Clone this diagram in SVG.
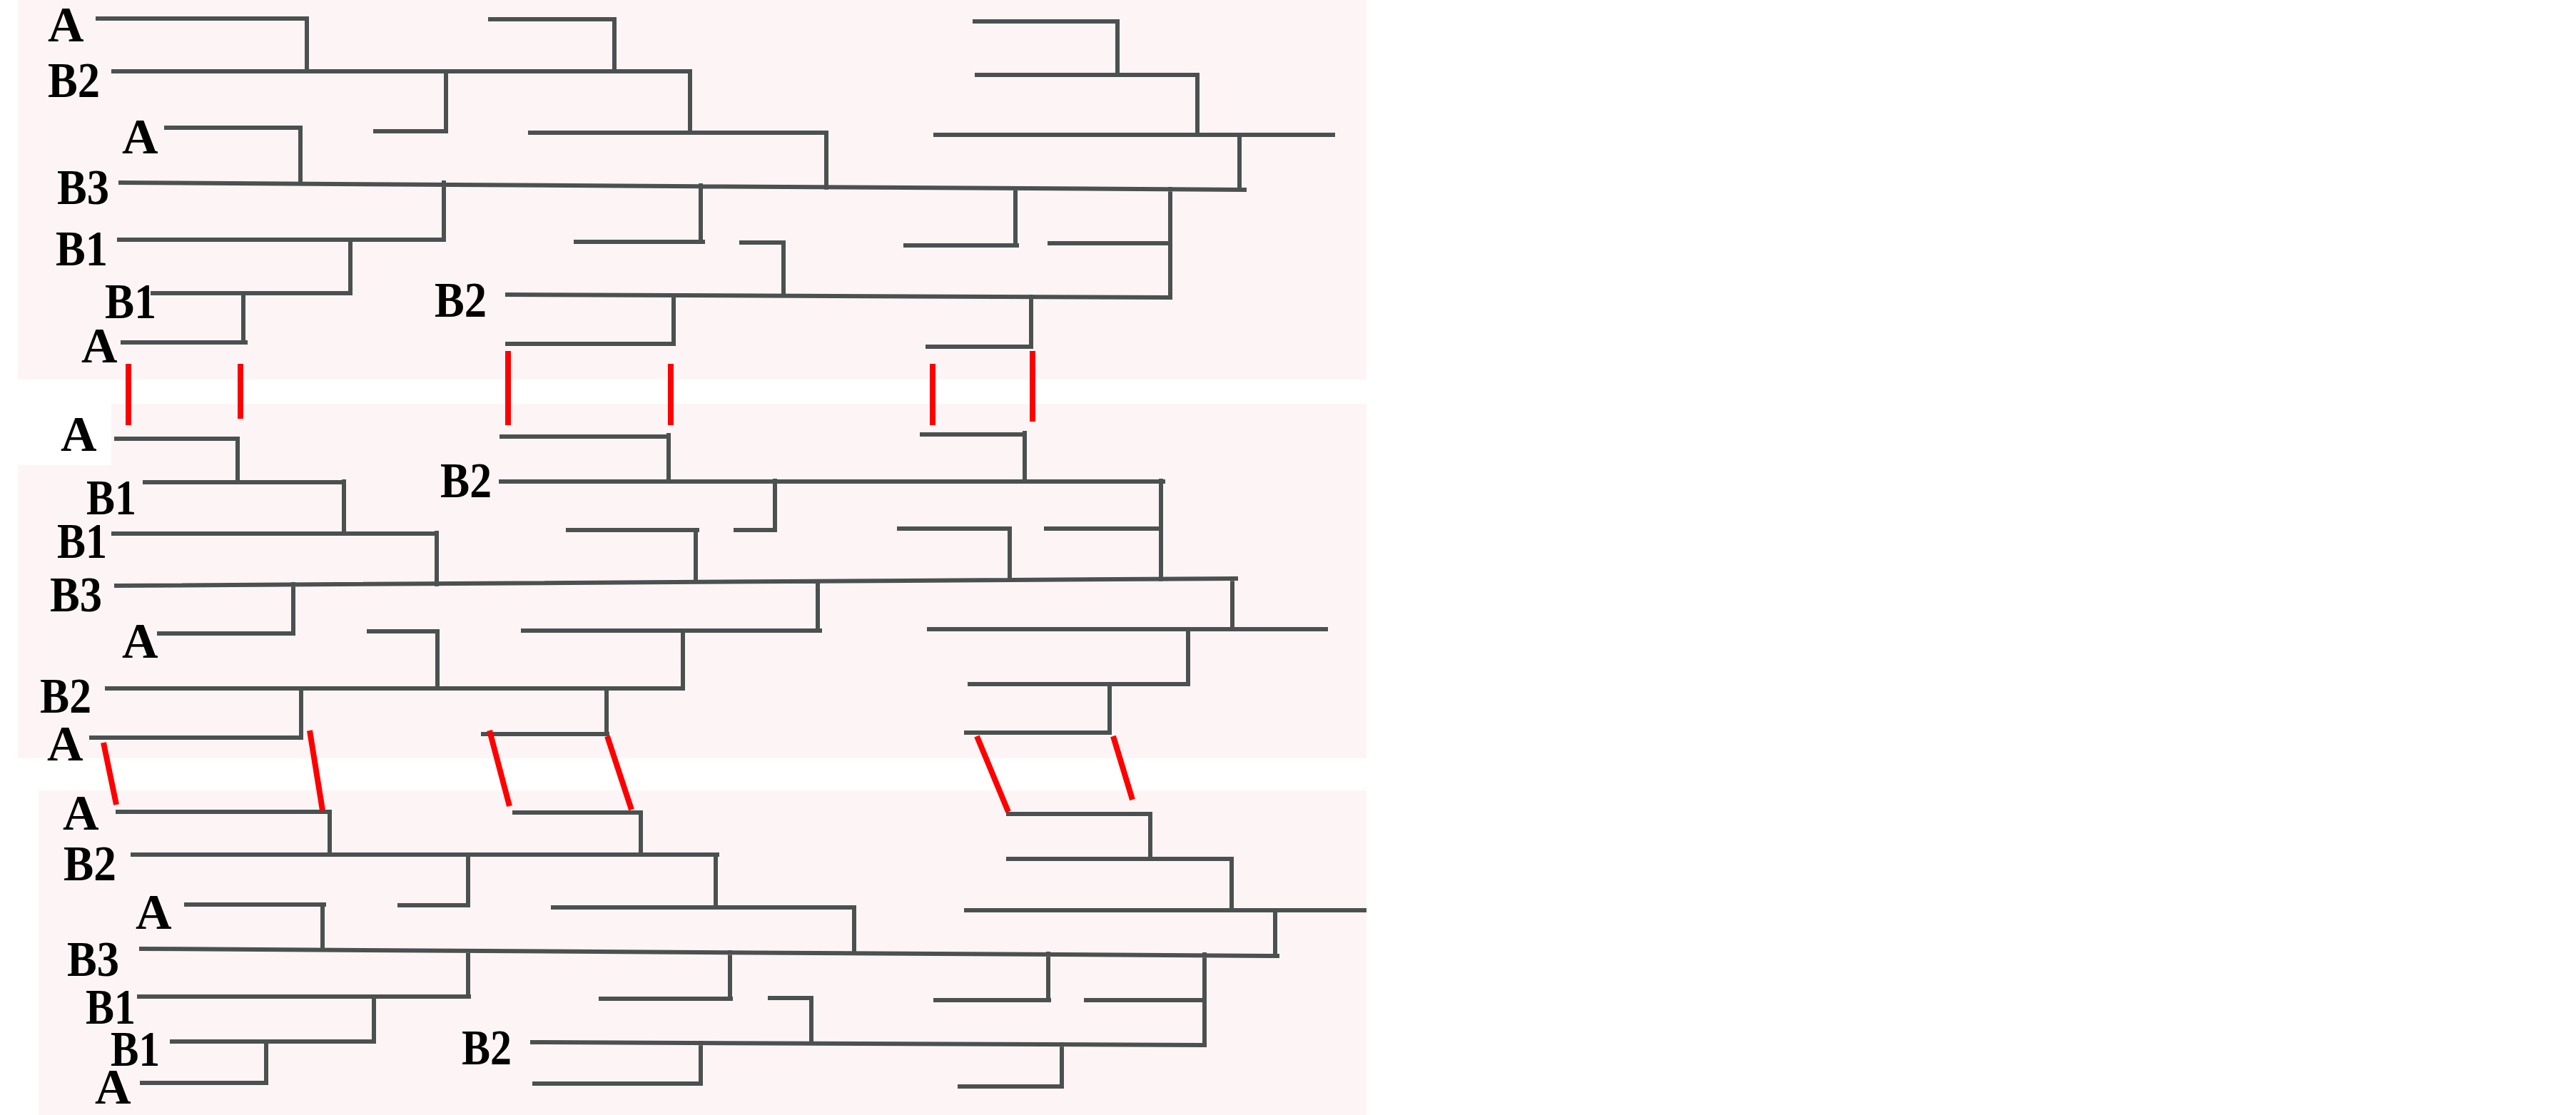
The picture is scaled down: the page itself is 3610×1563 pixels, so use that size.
<svg xmlns="http://www.w3.org/2000/svg" width="3610" height="1563" viewBox="0 0 3610 1563">
<style>
.bg{fill:#fdf5f5}
.ln{stroke:#4b5050;stroke-width:6;stroke-linecap:square;fill:none}
.rd{stroke:#ff0000;stroke-width:8;fill:none}
.lb{font-family:"Liberation Serif","Times New Roman",serif;font-weight:bold;font-size:70px;fill:#000}
</style>
<rect width="3610" height="1563" fill="#ffffff"/>
<g id="panels">
<rect class="bg" x="25" y="0" width="1890" height="532"/>
<rect class="bg" x="156" y="566" width="1759" height="90"/>
<rect class="bg" x="25" y="652" width="1890" height="411"/>
<rect class="bg" x="54" y="1108" width="1861" height="455"/>
</g>
<g id="labels">
<g id="p1-a1"><text class="lb" x="67" y="58">A</text></g>
<g id="p1-b2"><text class="lb" x="67" y="136" textLength="73" lengthAdjust="spacingAndGlyphs">B2</text></g>
<g id="p1-a2"><text class="lb" x="171" y="215">A</text></g>
<g id="p1-b3"><text class="lb" x="80" y="286" textLength="73" lengthAdjust="spacingAndGlyphs">B3</text></g>
<g id="p1-b1a"><text class="lb" x="78" y="372" textLength="73" lengthAdjust="spacingAndGlyphs">B1</text></g>
<g id="p1-b1b"><text class="lb" x="147" y="446" textLength="72" lengthAdjust="spacingAndGlyphs">B1</text></g>
<g id="p1-a3"><text class="lb" x="114" y="508">A</text></g>
<g id="p1-b2r"><text class="lb" x="609" y="444" textLength="73" lengthAdjust="spacingAndGlyphs">B2</text></g>
<g id="p2-a1"><text class="lb" x="85" y="632">A</text></g>
<g id="p2-b1a"><text class="lb" x="121" y="721" textLength="70" lengthAdjust="spacingAndGlyphs">B1</text></g>
<g id="p2-b2r"><text class="lb" x="617" y="697" textLength="72" lengthAdjust="spacingAndGlyphs">B2</text></g>
<g id="p2-b1b"><text class="lb" x="80" y="782" textLength="70" lengthAdjust="spacingAndGlyphs">B1</text></g>
<g id="p2-b3"><text class="lb" x="70" y="857" textLength="73" lengthAdjust="spacingAndGlyphs">B3</text></g>
<g id="p2-a2"><text class="lb" x="171" y="922">A</text></g>
<g id="p2-b2"><text class="lb" x="56" y="999" textLength="72" lengthAdjust="spacingAndGlyphs">B2</text></g>
<g id="p2-a3"><text class="lb" x="66" y="1066">A</text></g>
<g id="p3-a1"><text class="lb" x="88" y="1163">A</text></g>
<g id="p3-b2"><text class="lb" x="89" y="1234" textLength="74" lengthAdjust="spacingAndGlyphs">B2</text></g>
<g id="p3-a2"><text class="lb" x="190" y="1302">A</text></g>
<g id="p3-b3"><text class="lb" x="94" y="1368" textLength="73" lengthAdjust="spacingAndGlyphs">B3</text></g>
<g id="p3-b1a"><text class="lb" x="120" y="1435" textLength="70" lengthAdjust="spacingAndGlyphs">B1</text></g>
<g id="p3-b1b"><text class="lb" x="155" y="1494" textLength="69" lengthAdjust="spacingAndGlyphs">B1</text></g>
<g id="p3-a3"><text class="lb" x="133" y="1547">A</text></g>
<g id="p3-b2r"><text class="lb" x="647" y="1492" textLength="70" lengthAdjust="spacingAndGlyphs">B2</text></g>
</g>
<g id="connectors">
<path class="ln" d="M137 26H430M687 27H861M1366 30H1566
M159 100H967M1369 105H1678
M233 179H421M526 184H625M743 186H1158M1311 189H1868
M169 256L1744 266
M167 336H622M807 339H985M1039 340H1098M1269 344H1425M1471 341H1640
M214 411H491M711 413L1640 417
M172 480H344M711 482H944M1300 486H1445
M430 26V100M861 27V100M1566 30V105
M625 100V184M967 100V186M1678 105V189
M421 179V257M1158 186V263M1737 189V266
M622 256V336M982 260V339M1423 264V344M1640 265V417
M491 336V411M1098 340V414
M341 411V480M944 414V482M1445 416V486"/>
<path class="ln" d="M163 615H333M703 612H937M1292 609H1436
M203 676H482M702 675H1630
M159 748H612M796 743H977M1031 743H1086M1260 741H1415M1466 741H1627
M163 821L1732 811
M223 888H411M517 885H613M733 884H1149M1302 882H1858
M150 965H957M1359 959H1665
M128 1034H422M677 1029H851M1354 1027H1555
M333 615V676M937 610V675M1436 607V673
M482 675V747M1086 674V743M1627 674V812
M612 747V819M975 743V815M1415 741V812
M411 819V888M1146 815V884M1727 811V882
M613 885V965M957 884V965M1665 882V959
M422 965V1034M850 965V1029M1555 959V1027"/>
<path class="ln" d="M165 1138H462M721 1139H898M1413 1141H1612
M186 1198H1005M1413 1204H1726
M261 1268H454M560 1269H656M775 1272H1197M1354 1276H1912
M198 1330L1790 1340
M195 1397H657M842 1400H1024M1079 1399H1137M1311 1402H1470M1522 1402H1688
M241 1460H524M746 1461L1688 1465
M199 1518H373M749 1519H982M1345 1523H1488
M462 1138V1198M898 1139V1198M1612 1141V1204
M656 1198V1269M1003 1198V1272M1726 1204V1276
M452 1268V1331M1197 1272V1335M1787 1276V1340
M656 1333V1397M1023 1335V1400M1469 1337V1402M1688 1338V1464
M524 1397V1460M1137 1399V1462
M373 1460V1518M982 1462V1519M1488 1464V1523"/>
</g>
<g id="red-links">
<path class="rd" d="M180 510V596M337 510V587M712 492V596M940 510V596M1307 510V596M1447 492V591"/>
<path class="rd" d="M145 1041L163 1128M434 1024L452 1136M686 1024L714 1130M851 1032L885 1135M1369 1032L1413 1138M1560 1032L1587 1121"/>
</g>
</svg>
